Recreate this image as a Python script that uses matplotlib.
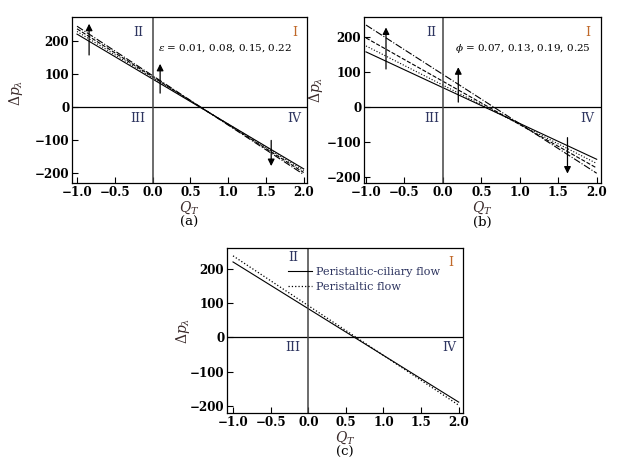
import matplotlib
matplotlib.use("Agg")
import matplotlib.pyplot as plt

# values (straight lines, so end points are enough)
q_ends = [-1.0, 2.0]

# (a) eps = 0.01, 0.08, 0.15, 0.22
eps_labels = ["0.01", "0.08", "0.15", "0.22"]
dp_a = [
    [222, -188],
    [230, -193],
    [238, -199],
    [246, -205],
]

# (b) phi = 0.07, 0.13, 0.19, 0.25
phi_labels = ["0.07", "0.13", "0.19", "0.25"]
dp_b = [
    [158, -150],
    [175, -162],
    [198, -175],
    [235, -190],
]

# (c) peristaltic-ciliary vs peristaltic
dp_ciliary = [222, -190]
dp_peristaltic = [240, -199]

xticks = [-1.0, -0.5, 0.0, 0.5, 1.0, 1.5, 2.0]
yticks = [-200, -100, 0, 100, 200]

styles = ["-", ":", "--", "-."]
col_quad = "#2e3560"
col_one = "#c0692a"
col_lab = "#3b2b2b"

plt.rcParams["font.family"] = ["DejaVu Serif"]
plt.rcParams["mathtext.fontset"] = "dejavuserif"

fig = plt.figure(figsize=(6.29, 4.66), dpi=100)


def setup(ax, xlim, ylim, quad_pos, tag, ylab_xy, tag_y):
    ax.set_xlim(*xlim)
    ax.set_ylim(*ylim)
    ax.set_xticks(xticks)
    ax.set_yticks(yticks)
    ax.set_xticklabels([f"{t:.1f}".replace("-", "\u2212") for t in xticks],
                       fontsize=8.6, fontweight="bold")
    ax.set_yticklabels([str(t).replace("-", "\u2212") for t in yticks],
                       fontsize=8.6, fontweight="bold")
    ax.tick_params(direction="in", length=4, width=0.8, pad=2)
    for s in ax.spines.values():
        s.set_linewidth(0.9)
    ax.axhline(0, color="black", lw=0.9)
    ax.axvline(0, color="#444444", lw=1.1)
    ax.set_xlabel(r"$Q_T$", fontsize=10, color=col_lab)
    ax.xaxis.set_label_coords(0.5, -0.10)
    ax.set_ylabel(r"$\Delta p_\lambda$", fontsize=10, color=col_lab)
    ax.yaxis.set_label_coords(*ylab_xy)
    (x2, x1, x3), (yt, y1, yb) = quad_pos
    ax.text(x2, yt, "II", color=col_quad, fontsize=9, ha="center", va="center")
    ax.text(x1, y1, "I", color=col_one, fontsize=9, ha="center", va="center")
    ax.text(x2, yb, "III", color=col_quad, fontsize=9, ha="center", va="center")
    ax.text(x3, yb, "IV", color=col_quad, fontsize=9, ha="center", va="center")
    ax.text(0.5, tag_y, tag, transform=ax.transAxes, ha="center", va="center",
            fontsize=9.5)


def arrow(ax, x, y0, y1):
    ax.annotate("", xy=(x, y1), xytext=(x, y0),
                arrowprops=dict(arrowstyle="-|>", color="black", lw=0.9,
                                mutation_scale=10))


# panel (a)
ax_a = fig.add_axes([0.1145, 0.6073, 0.3736, 0.3562])
for vals, ls in zip(dp_a, styles):
    ax_a.plot(q_ends, vals, ls, color="black", lw=0.8)
setup(ax_a, (-1.066, 2.044), (-231, 274),
      ((-0.19, 1.88, 1.88), (228, 228, -34)), "(a)", (-0.2, 0.54), -0.24)
ax_a.text(0.07, 178, r"$\epsilon$" + " = " + ", ".join(eps_labels),
          fontsize=7.5, va="center", ha="left", color="black")
arrow(ax_a, -0.84, 150, 262)
arrow(ax_a, 0.10, 34, 140)
arrow(ax_a, 1.57, -93, -188)

# panel (b)
ax_b = fig.add_axes([0.5787, 0.6073, 0.3768, 0.3562])
for vals, ls in zip(dp_b, styles):
    ax_b.plot(q_ends, vals, ls, color="black", lw=0.8)
setup(ax_b, (-1.026, 2.056), (-218, 258),
      ((-0.15, 1.88, 1.88), (215, 215, -32)), "(b)", (-0.165, 0.56), -0.24)
ax_b.text(0.16, 169, r"$\phi$" + " = " + ", ".join(phi_labels),
          fontsize=7.5, va="center", ha="left", color="black")
arrow(ax_b, -0.74, 101, 236)
arrow(ax_b, 0.20, 6, 122)
arrow(ax_b, 1.62, -80, -199)

# panel (c)
ax_c = fig.add_axes([0.3609, 0.1137, 0.3752, 0.3541])
ax_c.plot(q_ends, dp_ciliary, "-", color="black", lw=0.8,
          label="Peristaltic-ciliary flow")
ax_c.plot(q_ends, dp_peristaltic, ":", color="black", lw=0.9,
          label="Peristaltic flow")
setup(ax_c, (-1.08, 2.057), (-222, 263),
      ((-0.2, 1.9, 1.88), (234, 220, -30)), "(c)", (-0.148, 0.5), -0.24)
leg = ax_c.legend(loc="upper left", bbox_to_anchor=(0.239, 0.915), frameon=False,
                  fontsize=8.1, handlelength=2.1, handletextpad=0.36,
                  labelspacing=0.45, borderaxespad=0)
for t in leg.get_texts():
    t.set_color(col_quad)

fig.savefig("out.png", dpi=100)
